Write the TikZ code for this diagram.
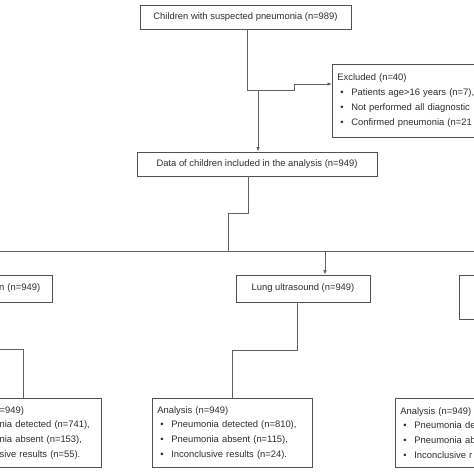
\documentclass[tikz,border=0pt]{standalone}
\usepackage{fontspec}
\setmainfont{Liberation Sans}
\usetikzlibrary{arrows.meta}

\newcommand{\bul}{\hspace*{3pt}\makebox[11pt][l]{\textbullet}}

\begin{document}
\begin{tikzpicture}[x=1pt,y=-1pt,
  box/.style={draw=black!68, line width=0.7pt, text=black!82, inner xsep=5pt, inner ysep=0pt,
    font=\fontsize{9.4}{14.2}\selectfont},
  list/.style={box, align=left, text width=150, minimum height=69,
    font=\fontsize{9.4}{14.6}\selectfont},
  link/.style={draw=black!62, line width=0.8pt},
  arr/.style={link, -{Latex[length=4.5pt,width=3.6pt]}}]
\path[use as bounding box, clip] (0,0) rectangle (474,474);
\fill[white] (0,0) rectangle (474,474);

% boxes
\node[box, minimum width=211, minimum height=24] (screen) at (245.5,17) {Children with suspected pneumonia (n=989)};
\node[list, font=\fontsize{9.4}{15}\selectfont, minimum height=73, anchor=north west] (excl) at (332,64)
  {Excluded (n=40)\\ \bul Patients age>16 years (n=7),\\ \bul Not performed all diagnostic\\ \bul Confirmed pneumonia (n=21};
\node[box, minimum width=240, minimum height=24] (data) at (257,164) {Data of children included in the analysis (n=949)};
\node[box, anchor=east, text width=110, inner xsep=12.5pt, minimum height=27, align=right] (leftexam) at (53,288.5) {n (n=949)};
\node[box, minimum width=134, minimum height=27] (lus) at (303,288.5) {Lung ultrasound (n=949)};
\node[box, anchor=north west, minimum width=134, minimum height=44] (rightexam) at (459,275) {};
\node[list, text width=97, anchor=north east] (leftres) at (102,398)
  {=949)\\ nia detected (n=741),\\ nia absent (n=153),\\ sive results (n=55).};
\node[list, anchor=north west] (lusres) at (152,398)
  {Analysis (n=949)\\ \bul Pneumonia detected (n=810),\\ \bul Pneumonia absent (n=115),\\ \bul Inconclusive results (n=24).};
\node[list, anchor=north west] (rightres) at (395,398)
  {Analysis (n=949)\\ \bul Pneumonia de\\ \bul Pneumonia ab\\ \bul Inconclusive r};

% connectors
\coordinate (split) at (258,90);
\coordinate (jog) at (294,84);
\draw[arr] ([xshift=1.5]screen.south) |- (jog |- split) |- (excl.west |- jog);
\draw[arr] (split) -- (split |- data.north);

\coordinate (jog2) at (228,213);
\coordinate (busL) at (-5,251);
\coordinate (busR) at (479,251);
\coordinate (drop) at (325,251);
\draw[link] ([xshift=-9]data.south) |- (jog2) -- (jog2 |- busL);
\draw[link] (busL) -- (busR);
\draw[arr] (drop) -- (drop |- lus.north);

\coordinate (jog3) at (232,350);
\draw[link] ([xshift=-6]lus.south) |- (jog3) -- (jog3 |- lusres.north);
\coordinate (jog4) at (23,349);
\draw[link] (leftexam.south) |- (jog4) -- (jog4 |- leftres.north);
\end{tikzpicture}
\end{document}
